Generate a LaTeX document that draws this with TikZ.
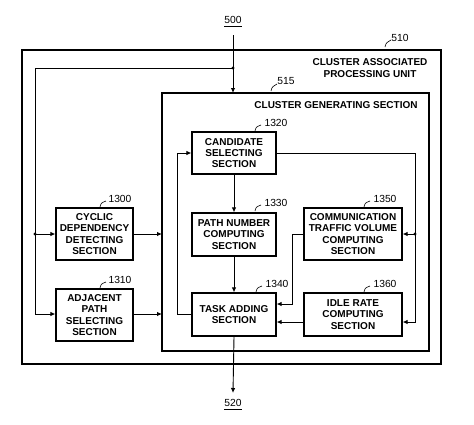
\documentclass[tikz,border=0pt]{standalone}
\usepackage{fontspec}
\setmainfont{Liberation Sans}
\usetikzlibrary{arrows.meta}
\begin{document}
\begin{tikzpicture}[x=1pt,y=-1pt,
  blk/.style={draw,line width=1.3pt,align=center,font=\bfseries\fontsize{10}{11.2}\selectfont,inner sep=0pt},
  arr/.style={-{Latex[length=5pt,width=4.5pt]},line width=0.9pt},
  ln/.style={line width=0.9pt},
  frame/.style={draw,line width=1.4pt},
  refnum/.style={font=\fontsize{10.3}{11}\selectfont,inner sep=0pt},
  title/.style={font=\bfseries\fontsize{10}{11.6}\selectfont,align=center,inner sep=0pt},
  tick/.style={line width=0.6pt},
  jdot/.style={circle,fill,inner sep=0pt,minimum size=3.2pt}]
\useasboundingbox (0,0) rectangle (474,424);

% frames
\draw[frame] (22,50) rectangle (441,364);
\draw[frame] (162,93) rectangle (429,351);
\node[title] (t510) at (370,68) {CLUSTER ASSOCIATED\\PROCESSING UNIT};
\node[title] (t515) at (336,105) {CLUSTER GENERATING SECTION};

% reference numbers
\node[refnum] (n510) at (400,38) {510};
\draw[tick] (385,47) .. controls (386,43) .. (391,40);
\node[refnum] (n515) at (286,81) {515};
\draw[tick] (271,91) .. controls (272,87) .. (277,84);

% blocks
\node[blk,minimum width=77pt,minimum height=52pt] (cyc) at (94.5,234) {CYCLIC\\DEPENDENCY\\DETECTING\\SECTION};
\node[blk,minimum width=77pt,minimum height=52pt] (adj) at (94.5,315) {ADJACENT\\PATH\\SELECTING\\SECTION};
\node[blk,minimum width=84pt,minimum height=42pt] (cand) at (234,153) {CANDIDATE\\SELECTING\\SECTION};
\node[blk,minimum width=84pt,minimum height=43pt] (path) at (234,234.5) {PATH NUMBER\\COMPUTING\\SECTION};
\node[blk,minimum width=98pt,minimum height=52pt] (comm) at (353,234) {COMMUNICATION\\TRAFFIC VOLUME\\COMPUTING\\SECTION};
\node[blk,minimum width=84pt,minimum height=43pt] (task) at (234,314.5) {TASK ADDING\\SECTION};
\node[blk,minimum width=98pt,minimum height=43pt] (idle) at (353,314.5) {IDLE RATE\\COMPUTING\\SECTION};

\node[refnum] (n1300) at (120,199) {1300};
\draw[tick] (100,207) .. controls (101,203) .. (106,201);
\node[refnum] (n1310) at (120,280) {1310};
\draw[tick] (100,288) .. controls (101,284) .. (106,282);
\node[refnum] (n1320) at (276,123) {1320};
\draw[tick] (255,131) .. controls (256,127) .. (261,125);
\node[refnum] (n1330) at (276,203) {1330};
\draw[tick] (255,211) .. controls (256,207) .. (261,205);
\node[refnum] (n1350) at (385,199) {1350};
\draw[tick] (364,207) .. controls (365,203) .. (370,201);
\node[refnum] (n1340) at (277,284) {1340};
\draw[tick] (256,292) .. controls (257,288) .. (262,286);
\node[refnum] (n1360) at (385,284) {1360};
\draw[tick] (364,292) .. controls (365,288) .. (370,286);

% input / output
\node[refnum] (in) at (233,20) {500};
\draw[line width=0.6pt] (224,26.5) -- (242,26.5);
\node[refnum] (out) at (233,403) {520};
\draw[line width=0.6pt] (224,409.5) -- (242,409.5);

\coordinate (intop) at (233,93);
\coordinate (jin) at (233,68);
\coordinate (jl) at (35,234);
\coordinate (jr) at (415,234);
\draw[arr] (233,35) -- (intop);
\node[jdot] at (jin) {};
\draw[arr] (jin) -- (35,68) -- (35,314) -- (adj.west |- 0,314);
\node[jdot] at (jl) {};
\draw[arr] (jl) -- (cyc.west);
\draw[arr] (cyc.east) -- (162,234);
\draw[arr] (adj.east |- 0,314) -- (162,314);

\draw[arr] (cand) -- (path);
\draw[arr] (path) -- (task);
\draw[arr] (cand.east) -- (415,153) -- (415,322) -- (idle.east |- 0,322);
\node[jdot] at (jr) {};
\draw[arr] (jr) -- (comm.east);
\draw[arr] (comm.west) -- (292,234) -- (292,304) -- (task.east |- 0,304);
\draw[arr] (idle.west |- 0,322) -- (task.east |- 0,322);
\draw[arr] (task.west) -- (177,314.5) -- (177,153) -- (cand.west);
\draw[arr] (task.south) -- (233,393);
\end{tikzpicture}
\end{document}
